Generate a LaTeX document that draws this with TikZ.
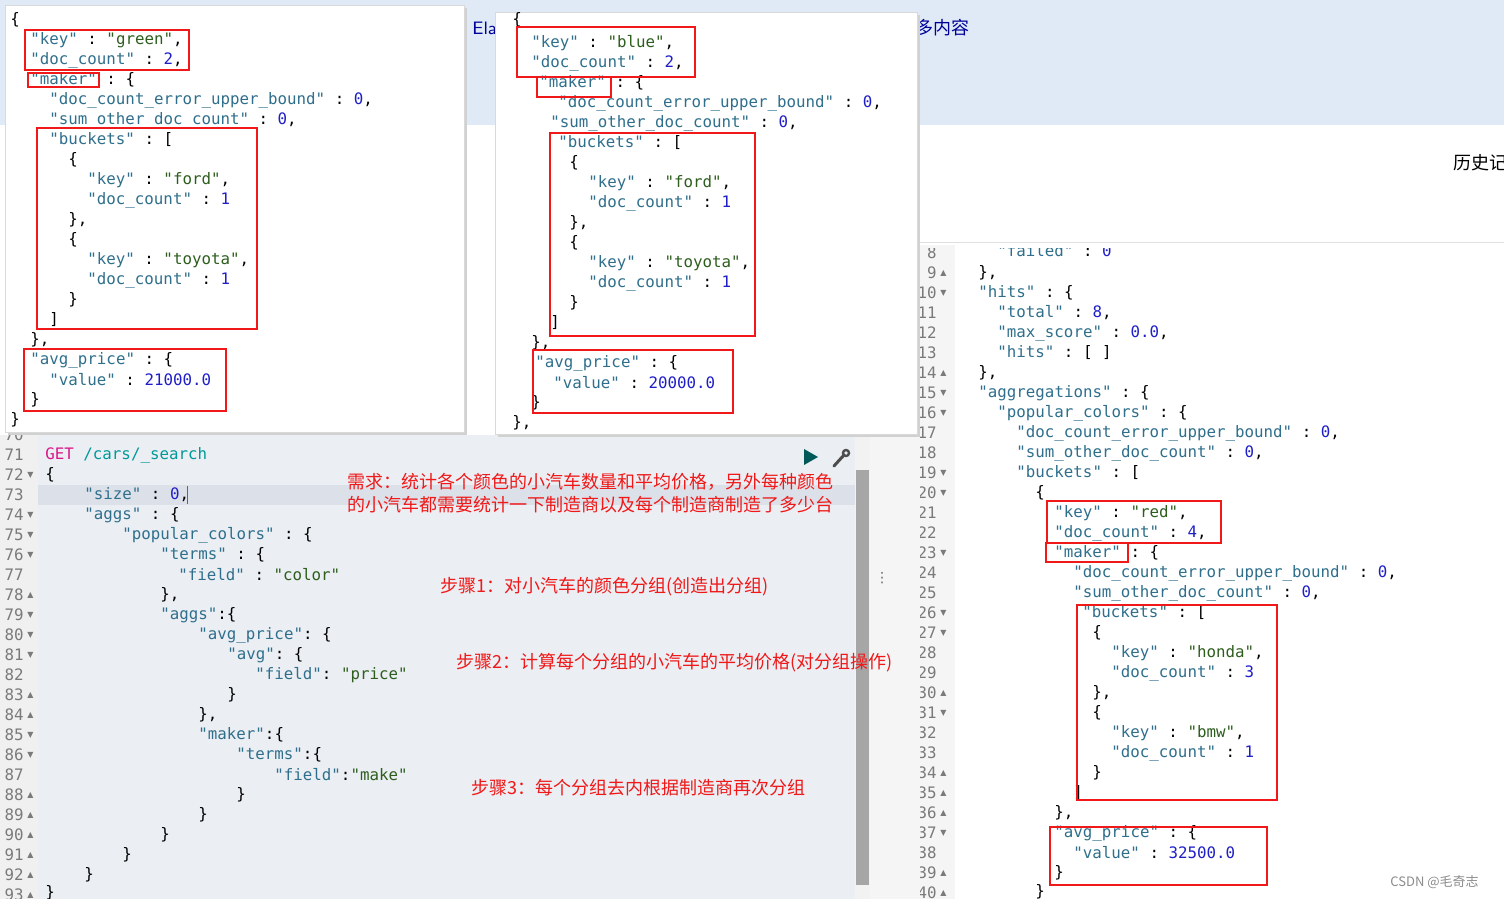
\documentclass[tikz,border=0pt]{standalone}
\usepackage{fontspec}
\setmonofont{DejaVu Sans Mono}
\newfontfamily\cjk{Noto Sans CJK SC}
\newfontfamily\symf{DejaVu Sans}
\definecolor{keyc}{HTML}{2F6F8C}
\definecolor{strc}{HTML}{2E5E1E}
\definecolor{numc}{HTML}{1F1FC8}
\definecolor{edbg}{HTML}{EBEEF3}
\definecolor{hlbg}{HTML}{DCE1E9}
\definecolor{topbg}{HTML}{DFEAF6}
\definecolor{redc}{HTML}{F01818}
\definecolor{gnum}{HTML}{7A7A7A}
\newcommand\ck[1]{\textcolor{keyc}{#1}}
\newcommand\cs[1]{\textcolor{strc}{#1}}
\newcommand\cn[1]{\textcolor{numc}{#1}}
\newcommand\codeline[3]{\node[code] at ({#1},{#2}) {#3};}
\newcommand\lnum[3]{\node[lnumst] at ({#1},{#2}) {#3};}
\tikzset{
 code/.style={font=\ttfamily\fontsize{7.9}{8}\selectfont, anchor=west, inner sep=0pt},
 lnumst/.style={font=\ttfamily\fontsize{7.9}{8}\selectfont, anchor=east, inner sep=0pt, text=gnum},
 redbox/.style={draw=redc, line width=0.6pt},
 redtxt/.style={font=\cjk\fontsize{9}{10}\selectfont, text=redc, anchor=west, inner sep=0pt},
 popup/.style={fill=white, draw=black!15},
 foldst/.style={font=\symf\fontsize{4}{4}\selectfont, text=gnum, anchor=west, inner sep=0pt}
}
\begin{document}
\begin{tikzpicture}[x=0.5pt,y=-0.5pt]
\useasboundingbox (0,0) rectangle (1504,899);
% backgrounds
\fill[white] (0,0) rectangle (1504,899);
\fill[topbg] (0,0) rectangle (1504,125);
\draw[black!12] (917,242) -- (1504,242);
\node[font=\sffamily\fontsize{9}{10}\selectfont, text=blue!60!black, anchor=west, inner sep=0] at (472,28) {Ela};
\node[font=\cjk\fontsize{9}{10}\selectfont, text=blue!60!black, anchor=west, inner sep=0] at (915,28) {多内容};
\node[font=\cjk\fontsize{9}{10}\selectfont, anchor=west, inner sep=0] at (1453,163) {历史记};
% editor
\fill[black!6] (0,435) rectangle (38,899);
\fill[edbg] (38,435) rectangle (855,899);
\fill[hlbg] (38,485) rectangle (855,505);
\fill[black!5] (855,435) rectangle (870,899);
\fill[black!35] (856,470) rectangle (869,885);
\fill[black!4] (870,435) rectangle (920,899);
\node[font=\symf\fontsize{7}{8}\selectfont, text=black!60] at (882,578) {⋮};
% right panel
\fill[black!4] (920,245) rectangle (955,899);
% left editor line numbers
\foreach \n in {70,...,93}{ \lnum{24}{455+20*(\n-71)}{\n} }
\foreach \n in {72,74,75,76,79,80,81,85,86}{ \node[foldst] at ({27},{455+20*(\n-71)}) {▼}; }
\foreach \n in {78,83,84,88,89,90,91,92,93}{ \node[foldst] at ({27},{455+20*(\n-71)}) {▲}; }
% left editor code
\node[code] at (45,455) {\textcolor{magenta!90!black}{GET} \textcolor{teal!80!cyan}{/cars/\_search}};
\codeline{45}{475}{\{}
\codeline{84}{495}{\ck{"size"} : \cn{0},}
\draw[black!60] (187,486) -- (187,504);
\codeline{84}{515}{\ck{"aggs"} : \{}
\codeline{122}{535}{\ck{"popular\_colors"} : \{}
\codeline{160}{555}{\ck{"terms"} : \{}
\codeline{178}{575}{\ck{"field"} : \cs{"color"}}
\codeline{160}{595}{\},}
\codeline{160}{615}{\ck{"aggs"}:\{}
\codeline{198}{635}{\ck{"avg\_price"}: \{}
\codeline{227}{655}{\ck{"avg"}: \{}
\codeline{255}{675}{\ck{"field"}: \cs{"price"}}
\codeline{227}{695}{\}}
\codeline{198}{715}{\},}
\codeline{198}{735}{\ck{"maker"}:\{}
\codeline{236}{755}{\ck{"terms"}:\{}
\codeline{274}{775}{\ck{"field"}:\cs{"make"}}
\codeline{236}{795}{\}}
\codeline{198}{815}{\}}
\codeline{160}{835}{\}}
\codeline{122}{855}{\}}
\codeline{84}{875}{\}}
\codeline{45}{893}{\}}
% play & wrench
\fill[teal!70!black] (804,449) -- (818,457) -- (804,465) -- cycle;
\draw[black!70, line width=1.5pt, line cap=round] (834,466) -- (844,455);
\draw[black!70, line width=1.2pt] (846,453) circle (3);
% red texts
\node[redtxt] at (347,482) {需求：统计各个颜色的小汽车数量和平均价格，另外每种颜色};
\node[redtxt] at (347,505) {的小汽车都需要统计一下制造商以及每个制造商制造了多少台};
\node[redtxt] at (440,587) {步骤1：对小汽车的颜色分组(创造出分组)};
\node[redtxt] at (456,663) {步骤2：计算每个分组的小汽车的平均价格(对分组操作)};
\node[redtxt] at (471,788) {步骤3：每个分组去内根据制造商再次分组};
% right panel numbers
\begin{scope}
\clip (920,248) rectangle (1504,899);
\foreach \n in {8,...,40}{ \lnum{937}{273+20*(\n-9)}{\n} }
\foreach \n in {10,15,16,19,20,23,26,27,31,37}{ \node[foldst] at ({940},{273+20*(\n-9)}) {▼}; }
\foreach \n in {9,14,30,34,35,36,39,40}{ \node[foldst] at ({940},{273+20*(\n-9)}) {▲}; }
\codeline{997}{251}{\ck{"failed"} : \cn{0}}
\codeline{978}{273}{\},}
\codeline{978}{293}{\ck{"hits"} : \{}
\codeline{997}{313}{\ck{"total"} : \cn{8},}
\codeline{997}{333}{\ck{"max\_score"} : \cn{0.0},}
\codeline{997}{353}{\ck{"hits"} : [ ]}
\codeline{978}{373}{\},}
\codeline{978}{393}{\ck{"aggregations"} : \{}
\codeline{997}{413}{\ck{"popular\_colors"} : \{}
\codeline{1016}{433}{\ck{"doc\_count\_error\_upper\_bound"} : \cn{0},}
\codeline{1016}{453}{\ck{"sum\_other\_doc\_count"} : \cn{0},}
\codeline{1016}{473}{\ck{"buckets"} : [}
\codeline{1035}{493}{\{}
\codeline{1054}{513}{\ck{"key"} : \cs{"red"},}
\codeline{1054}{533}{\ck{"doc\_count"} : \cn{4},}
\codeline{1054}{553}{\ck{"maker"} : \{}
\codeline{1073}{573}{\ck{"doc\_count\_error\_upper\_bound"} : \cn{0},}
\codeline{1073}{593}{\ck{"sum\_other\_doc\_count"} : \cn{0},}
\codeline{1082}{613}{\ck{"buckets"} : [}
\codeline{1092}{633}{\{}
\codeline{1111}{653}{\ck{"key"} : \cs{"honda"},}
\codeline{1111}{673}{\ck{"doc\_count"} : \cn{3}}
\codeline{1092}{693}{\},}
\codeline{1092}{713}{\{}
\codeline{1111}{733}{\ck{"key"} : \cs{"bmw"},}
\codeline{1111}{753}{\ck{"doc\_count"} : \cn{1}}
\codeline{1092}{773}{\}}
\codeline{1073}{793}{]}
\codeline{1054}{813}{\},}
\codeline{1054}{833}{\ck{"avg\_price"} : \{}
\codeline{1073}{853}{\ck{"value"} : \cn{32500.0}}
\codeline{1054}{873}{\}}
\codeline{1035}{892}{\}}
\end{scope}
\draw[redbox] (1047,501) rectangle (1221,543);
\draw[redbox] (1046,543) rectangle (1128,562);
\draw[redbox] (1077,605) rectangle (1277,800);
\draw[redbox] (1050,827) rectangle (1267,885);
\node[font=\cjk\fontsize{6.5}{8}\selectfont, text=black!45, anchor=west, inner sep=0] at (1390,882) {CSDN @毛奇志};
% left popup
\fill[black!18] (8,8) rectangle (467,435);
\draw[popup] (5,5) rectangle (464,432);
\begin{scope}
\clip (5,5) rectangle (464,432);
\codeline{10}{20}{\{}
\codeline{30}{40}{\ck{"key"} : \cs{"green"},}
\codeline{30}{60}{\ck{"doc\_count"} : \cn{2},}
\codeline{30}{80}{\ck{"maker"} : \{}
\codeline{49}{100}{\ck{"doc\_count\_error\_upper\_bound"} : \cn{0},}
\codeline{49}{120}{\ck{"sum\_other\_doc\_count"} : \cn{0},}
\codeline{49}{140}{\ck{"buckets"} : [}
\codeline{68}{160}{\{}
\codeline{87}{180}{\ck{"key"} : \cs{"ford"},}
\codeline{87}{200}{\ck{"doc\_count"} : \cn{1}}
\codeline{68}{220}{\},}
\codeline{68}{240}{\{}
\codeline{87}{260}{\ck{"key"} : \cs{"toyota"},}
\codeline{87}{280}{\ck{"doc\_count"} : \cn{1}}
\codeline{68}{300}{\}}
\codeline{49}{320}{]}
\codeline{30}{340}{\},}
\codeline{30}{360}{\ck{"avg\_price"} : \{}
\codeline{49}{380}{\ck{"value"} : \cn{21000.0}}
\codeline{30}{400}{\}}
\codeline{10}{420}{\}}
\end{scope}
\draw[redbox] (25,30) rectangle (189,70);
\draw[redbox] (28,73) rectangle (99,87);
\draw[redbox] (37,128) rectangle (257,329);
\draw[redbox] (24,349) rectangle (226,411);
% middle popup
\fill[black!18] (498,15) rectangle (920,437);
\draw[popup] (495,12) rectangle (917,434);
\begin{scope}
\clip (495,12) rectangle (917,434);
\codeline{512}{20}{\{}
\codeline{531}{43}{\ck{"key"} : \cs{"blue"},}
\codeline{531}{63}{\ck{"doc\_count"} : \cn{2},}
\codeline{539}{83}{\ck{"maker"} : \{}
\codeline{558}{103}{\ck{"doc\_count\_error\_upper\_bound"} : \cn{0},}
\codeline{550}{123}{\ck{"sum\_other\_doc\_count"} : \cn{0},}
\codeline{558}{143}{\ck{"buckets"} : [}
\codeline{569}{163}{\{}
\codeline{588}{183}{\ck{"key"} : \cs{"ford"},}
\codeline{588}{203}{\ck{"doc\_count"} : \cn{1}}
\codeline{569}{223}{\},}
\codeline{569}{243}{\{}
\codeline{588}{263}{\ck{"key"} : \cs{"toyota"},}
\codeline{588}{283}{\ck{"doc\_count"} : \cn{1}}
\codeline{569}{303}{\}}
\codeline{550}{323}{]}
\codeline{531}{343}{\},}
\codeline{535}{363}{\ck{"avg\_price"} : \{}
\codeline{553}{383}{\ck{"value"} : \cn{20000.0}}
\codeline{531}{403}{\}}
\codeline{512}{423}{\},}
\end{scope}
\draw[redbox] (517,27) rectangle (695,77);
\draw[redbox] (537,77) rectangle (611,97);
\draw[redbox] (550,133) rectangle (755,336);
\draw[redbox] (533,350) rectangle (733,413);
\end{tikzpicture}
\end{document}
